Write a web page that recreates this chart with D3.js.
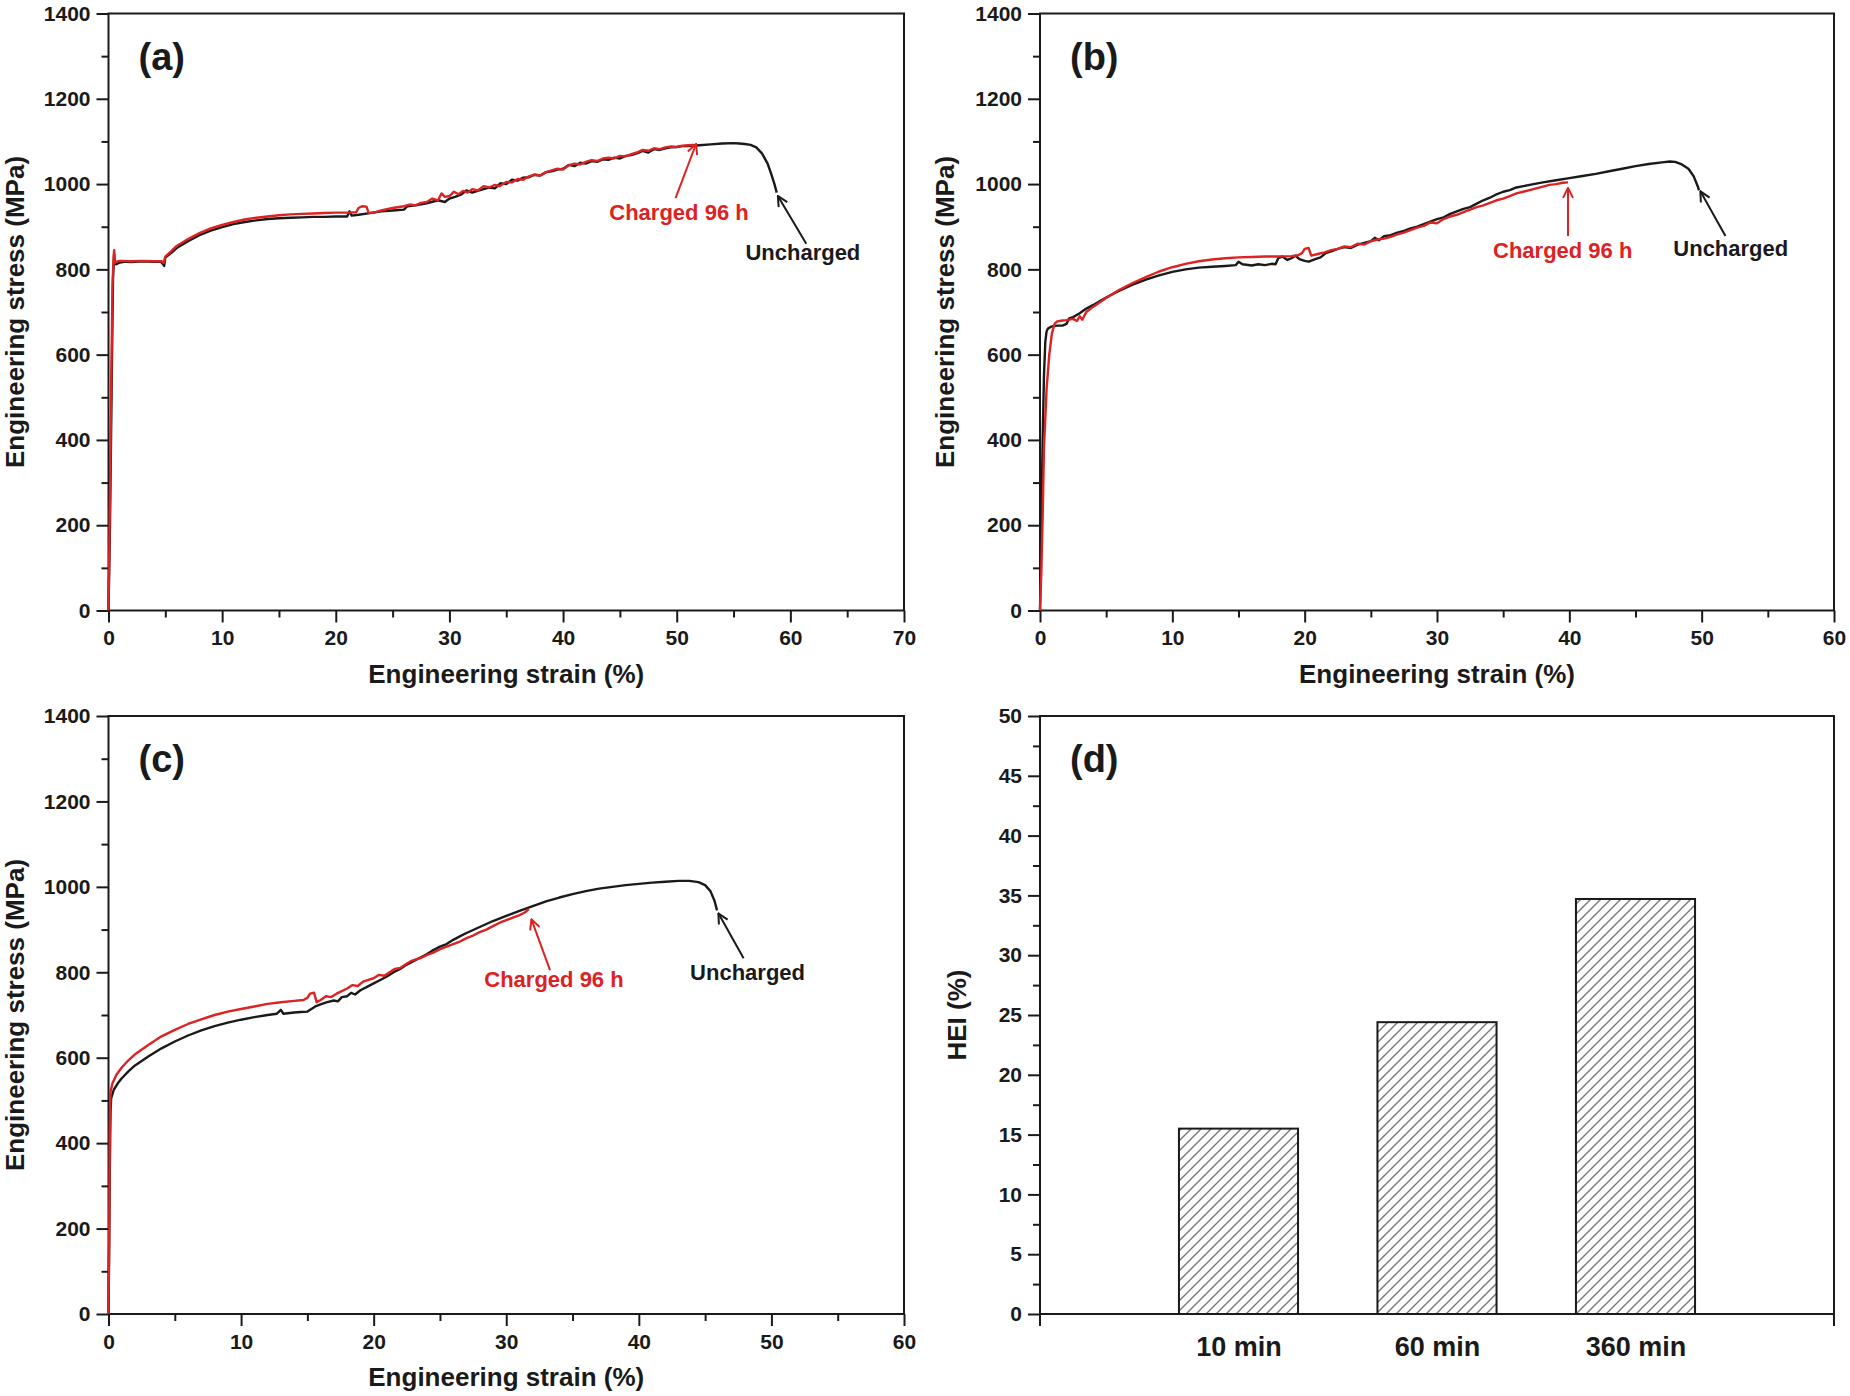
<!DOCTYPE html>
<html>
<head>
<meta charset="utf-8">
<script src="https://cdn.jsdelivr.net/npm/d3@7"></script>
<style>
  body { margin: 0; background: #fff; }
  text { font-family: "Liberation Sans", Arial, sans-serif; font-weight: bold; fill: #1a1a1a; }
</style>
</head>
<body>
<script>
// stress-strain curves, [strain %, stress MPa]
var uncharged_a = [[0,0],[0.1,150],[0.2,350],[0.3,580],[0.4,780],[0.5,835],[0.55,812],[0.6,815],[0.7,812],[1,816],[1.5,818],[2,817],[3,819],[4,818],[4.6,818],[4.8,812],[4.9,808],[5,828],[5.5,838],[6,850],[7,866],[8,880],[9,891],[10,899],[11,906],[12,911],[13,915],[14,918],[15,920],[16,921],[17,922],[18,923],[19,923],[20,924],[21,924],[21.2,936],[21.4,926],[22,928],[23,932],[24,936],[25,938],[26,940],[26.3,948],[27,950],[28,955],[29,962],[29.6,958],[30,966],[30.5,970],[31,975],[31.5,985],[32,980],[33,988],[33.5,992],[34,990],[34.5,1002],[35,1000],[35.5,1010],[36,1008],[36.5,1015],[37,1016],[37.5,1022],[38,1020],[38.5,1028],[39,1030],[39.5,1034],[40,1036],[40.5,1045],[41,1042],[41.5,1050],[42,1048],[42.5,1054],[43,1052],[43.5,1058],[44,1057],[44.5,1062],[45,1060],[45.5,1066],[46,1068],[46.5,1072],[47,1078],[47.5,1074],[48,1082],[48.5,1080],[49,1084],[49.5,1086],[50,1087],[50.5,1089],[51,1089],[52,1091],[53,1093],[54,1095],[55,1096],[55.5,1095],[56,1094],[56.5,1092],[57,1086],[57.5,1072],[58,1048],[58.3,1025],[58.6,1000],[58.8,980]];
var charged_a = [[0,0],[0.05,100],[0.15,300],[0.25,550],[0.35,760],[0.45,830],[0.5,845],[0.55,815],[0.7,818],[1,820],[2,819],[3,820],[4,819],[4.7,819],[4.85,815],[5,830],[5.5,842],[6,855],[7,871],[8,885],[9,896],[10,904],[11,911],[12,917],[13,921],[14,924],[15,927],[16,929],[17,930],[18,931],[19,932],[20,933],[21,933],[21.8,934],[22,944],[22.3,948],[22.7,947],[22.9,932],[23.5,934],[24,938],[25,944],[26,948],[26.5,952],[27,950],[27.5,956],[28,958],[28.5,966],[29,962],[29.3,978],[29.6,970],[30,972],[30.4,982],[30.8,976],[31.2,984],[31.6,980],[32,988],[32.5,985],[33,995],[33.5,992],[34,998],[34.4,995],[35,1005],[35.5,1004],[36,1012],[36.5,1010],[37,1018],[37.5,1022],[38,1020],[38.5,1028],[39,1032],[39.5,1036],[40,1034],[40.5,1044],[41,1048],[41.5,1046],[42,1052],[42.5,1056],[43,1054],[43.5,1060],[44,1062],[44.5,1060],[45,1066],[45.5,1065],[46,1070],[46.5,1074],[47,1080],[47.5,1078],[48,1084],[48.5,1082],[49,1086],[49.5,1088],[50,1087],[50.5,1090],[51,1091],[51.5,1092],[51.8,1090]];

var uncharged_b = [[0,0],[0.1,200],[0.2,400],[0.3,550],[0.4,630],[0.5,655],[0.6,661],[0.8,665],[1,667],[1.3,668],[1.7,668],[2,672],[2.2,685],[2.5,688],[3,697],[3.5,708],[4,716],[4.5,725],[5,734],[6,750],[7,764],[8,776],[9,786],[10,794],[11,800],[12,804],[13,806],[14,808],[14.8,810],[15,818],[15.3,812],[16,809],[16.5,812],[17,810],[17.5,813],[17.8,812],[18,826],[18.3,830],[18.7,822],[19,826],[19.3,832],[19.6,824],[20,820],[20.3,818],[20.8,824],[21.2,828],[21.6,838],[22,842],[22.5,848],[23,852],[23.5,850],[24,858],[24.5,862],[25,866],[25.3,874],[25.6,868],[26,878],[26.5,880],[27,886],[27.5,890],[28,896],[28.5,900],[29,906],[29.5,912],[30,918],[30.5,922],[31,930],[31.5,936],[32,942],[32.5,946],[33,954],[33.5,962],[34,968],[34.5,976],[35,982],[35.5,986],[36,992],[37,998],[38,1004],[39,1009],[40,1014],[41,1019],[42,1024],[43,1030],[44,1036],[45,1042],[46,1047],[47,1051],[47.6,1053],[48,1052],[48.5,1046],[49,1036],[49.4,1018],[49.7,995],[49.8,985]];
var charged_b = [[0,0],[0.1,90],[0.2,220],[0.3,380],[0.5,520],[0.7,600],[0.9,650],[1.1,672],[1.3,678],[1.7,680],[2,681],[2.5,684],[2.8,679],[3,690],[3.2,682],[3.5,700],[4,712],[5,733],[6,752],[7,768],[8,782],[9,795],[10,805],[11,813],[12,819],[13,823],[14,826],[15,828],[16,829],[17,830],[18,830],[19,831],[19.5,833],[19.8,838],[20,848],[20.3,850],[20.5,832],[21,836],[21.5,840],[22,845],[22.5,848],[23,854],[23.5,852],[24,860],[24.5,858],[25,866],[25.5,870],[26,872],[26.5,876],[27,882],[27.5,886],[28,892],[28.5,898],[29,902],[29.5,910],[30,908],[30.5,918],[31,924],[31.5,928],[32,934],[32.5,940],[33,946],[33.5,950],[34,956],[34.5,962],[35,966],[35.5,972],[36,978],[36.5,982],[37,986],[37.5,990],[38,994],[38.5,998],[39,1000],[39.5,1003],[39.9,1004]];

var uncharged_c = [[0,0],[0.05,150],[0.1,350],[0.15,470],[0.2,505],[0.4,525],[0.7,540],[1,552],[1.5,568],[2,582],[3,603],[4,622],[5,638],[6,652],[7,664],[8,674],[9,682],[10,689],[11,695],[12,700],[12.7,703],[13,712],[13.2,703],[14,706],[14.5,707],[15,708],[15.3,714],[15.6,720],[16,725],[16.5,730],[17,734],[17.3,732],[17.6,742],[18,744],[18.3,752],[18.6,748],[19,758],[19.5,766],[20,774],[20.5,782],[21,790],[21.5,800],[22,808],[22.5,818],[23,826],[23.5,834],[24,842],[24.5,852],[25,860],[25.5,866],[26,876],[26.5,884],[27,892],[28,906],[29,920],[30,932],[31,944],[32,955],[33,966],[34,975],[35,983],[36,990],[37,996],[38,1000],[39,1004],[40,1007],[41,1010],[42,1012],[43,1014],[43.8,1014],[44.5,1011],[45,1004],[45.4,990],[45.7,968],[45.9,945]];
var charged_c = [[0,0],[0.05,180],[0.1,420],[0.15,520],[0.3,540],[0.6,560],[1,577],[1.5,594],[2,608],[3,630],[4,650],[5,665],[6,679],[7,690],[8,700],[9,708],[10,714],[11,720],[12,726],[13,730],[14,733],[14.7,735],[15,740],[15.2,750],[15.5,752],[15.7,730],[16,735],[16.4,744],[16.8,742],[17.2,750],[17.6,756],[18,762],[18.4,770],[18.8,768],[19.2,778],[19.6,782],[20,786],[20.4,794],[20.8,792],[21.2,800],[21.6,808],[22,810],[22.4,818],[22.8,826],[23.2,830],[23.6,834],[24,840],[24.5,846],[25,854],[25.5,860],[26,866],[26.5,872],[27,880],[27.5,886],[28,894],[28.5,900],[29,908],[29.5,916],[30,922],[30.5,928],[31,934],[31.4,940],[31.7,948]];

// HEI bar chart
var heiCategories = ["10 min", "60 min", "360 min"];
var heiValues = [15.5, 24.4, 34.7];

var stressTicks = d3.range(0, 1401, 200);
var heiTicks = d3.range(0, 51, 5);

var RED = "#dc2222";
var INK = "#1a1a1a";

var svg = d3.select("body").append("svg")
    .attr("width", 1850)
    .attr("height", 1396);

var defs = svg.append("defs");
[["arrow-red", RED], ["arrow-black", INK]].forEach(function(m) {
    defs.append("marker")
        .attr("id", m[0])
        .attr("viewBox", "0 0 12 12")
        .attr("refX", 11).attr("refY", 6)
        .attr("markerWidth", 12).attr("markerHeight", 12)
        .attr("markerUnits", "userSpaceOnUse")
        .attr("orient", "auto")
        .append("path")
        .attr("d", "M1,1 L11,6 L1,11")
        .attr("fill", "none")
        .attr("stroke", m[1])
        .attr("stroke-width", 2);
});

var hatch = defs.append("pattern")
    .attr("id", "hatch")
    .attr("patternUnits", "userSpaceOnUse")
    .attr("width", 10).attr("height", 10);
hatch.append("rect").attr("width", 10).attr("height", 10).attr("fill", "#fff");
hatch.append("path")
    .attr("d", "M-1,1 l2,-2 M0,10 l10,-10 M9,11 l2,-2")
    .attr("stroke", "#777")
    .attr("stroke-width", 1.4);

function styleAxis(g, fontSize) {
    g.select(".domain").remove();
    g.selectAll(".tick line").attr("stroke", INK).attr("stroke-width", 2);
    g.selectAll(".tick text")
        .style("font-size", fontSize + "px")
        .attr("fill", INK);
}

function frame(x0, x1, y0, y1) {
    svg.append("rect")
        .attr("x", x0).attr("y", y1)
        .attr("width", x1 - x0).attr("height", y0 - y1)
        .attr("fill", "none")
        .attr("stroke", INK)
        .attr("stroke-width", 2);
}

function stressPanel(p) {
    var x = d3.scaleLinear().domain([0, p.xmax]).range([p.x0, p.x1]);
    var y = d3.scaleLinear().domain([0, 1400]).range([p.y0, p.y1]);

    // minor ticks
    svg.append("g").attr("transform", "translate(0," + p.y0 + ")")
        .call(d3.axisBottom(x).tickValues(d3.range(5, p.xmax, 10)).tickSize(7).tickFormat(""))
        .call(styleAxis, 21);
    svg.append("g").attr("transform", "translate(" + p.x0 + ",0)")
        .call(d3.axisLeft(y).tickValues(d3.range(100, 1400, 200)).tickSize(7).tickFormat(""))
        .call(styleAxis, 21);

    svg.append("g").attr("transform", "translate(0," + p.y0 + ")")
        .call(d3.axisBottom(x).tickValues(d3.range(0, p.xmax + 1, 10)).tickSize(12).tickPadding(8).tickFormat(d3.format("d")))
        .call(styleAxis, 21);
    svg.append("g").attr("transform", "translate(" + p.x0 + ",0)")
        .call(d3.axisLeft(y).tickValues(stressTicks).tickSize(12).tickPadding(6).tickFormat(d3.format("d")))
        .call(styleAxis, 21);

    frame(p.x0, p.x1, p.y0, p.y1);

    var line = d3.line().x(function(d) { return x(d[0]); }).y(function(d) { return y(d[1]); });
    p.curves.forEach(function(c) {
        svg.append("path")
            .datum(c.data)
            .attr("d", line)
            .attr("fill", "none")
            .attr("stroke", c.color)
            .attr("stroke-width", 2.4)
            .attr("stroke-linejoin", "round");
    });

    p.notes.forEach(function(n) {
        svg.append("line")
            .attr("x1", x(n.from[0])).attr("y1", y(n.from[1]))
            .attr("x2", x(n.to[0])).attr("y2", y(n.to[1]))
            .attr("stroke", n.color)
            .attr("stroke-width", 2)
            .attr("marker-end", n.color == RED ? "url(#arrow-red)" : "url(#arrow-black)");
        svg.append("text")
            .attr("x", x(n.at[0])).attr("y", y(n.at[1]))
            .attr("text-anchor", "middle")
            .style("font-size", "22px")
            .style("fill", n.color)
            .text(n.text);
    });

    svg.append("text")
        .attr("x", p.x0 + 30).attr("y", p.y1 + 56)
        .style("font-size", "38px")
        .text(p.label);

    svg.append("text")
        .attr("transform", "translate(" + p.yTitleX + "," + (p.y0 + p.y1) / 2 + ") rotate(-90)")
        .attr("text-anchor", "middle")
        .style("font-size", "26px")
        .text("Engineering stress (MPa)");
    svg.append("text")
        .attr("x", (p.x0 + p.x1) / 2).attr("y", p.y0 + 72)
        .attr("text-anchor", "middle")
        .style("font-size", "26px")
        .text("Engineering strain (%)");
}

stressPanel({
    x0: 108.5, x1: 904, y0: 610.5, y1: 13.5, xmax: 70, label: "(a)", yTitleX: 24,
    curves: [{data: uncharged_a, color: INK}, {data: charged_a, color: RED}],
    notes: [
        {text: "Charged 96 h", color: RED, at: [50.2, 916], from: [49.9, 967], to: [51.7, 1094]},
        {text: "Uncharged", color: INK, at: [61.1, 822], from: [61.4, 860], to: [58.9, 972]}
    ]
});

stressPanel({
    x0: 1040, x1: 1834, y0: 610.5, y1: 13.5, xmax: 60, label: "(b)", yTitleX: 954,
    curves: [{data: uncharged_b, color: INK}, {data: charged_b, color: RED}],
    notes: [
        {text: "Charged 96 h", color: RED, at: [39.5, 826], from: [39.9, 878], to: [39.9, 991]},
        {text: "Uncharged", color: INK, at: [52.2, 831], from: [51.8, 878], to: [49.9, 983]}
    ]
});

stressPanel({
    x0: 108.5, x1: 904, y0: 1314, y1: 716, xmax: 60, label: "(c)", yTitleX: 24,
    curves: [{data: uncharged_c, color: INK}, {data: charged_c, color: RED}],
    notes: [
        {text: "Charged 96 h", color: RED, at: [33.6, 766], from: [33.3, 805], to: [31.9, 924]},
        {text: "Uncharged", color: INK, at: [48.2, 782], from: [47.9, 833], to: [46, 938]}
    ]
});

// panel (d)
(function() {
    var x0 = 1040, x1 = 1834, y0 = 1314, y1 = 716;
    var x = d3.scalePoint().domain(heiCategories).range([x0, x1]).padding(1);
    var y = d3.scaleLinear().domain([0, 50]).range([y0, y1]);
    var bw = x.step() * 0.6;

    svg.append("g").attr("transform", "translate(" + x0 + ",0)")
        .call(d3.axisLeft(y).tickValues(d3.range(2.5, 50, 5)).tickSize(7).tickFormat(""))
        .call(styleAxis, 21);
    svg.append("g").attr("transform", "translate(" + x0 + ",0)")
        .call(d3.axisLeft(y).tickValues(heiTicks).tickSize(12).tickPadding(6))
        .call(styleAxis, 21);
    svg.append("g").attr("transform", "translate(0," + y0 + ")")
        .call(d3.axisBottom(x).tickSize(0).tickPadding(23))
        .call(styleAxis, 27);
    [x0, x1].forEach(function(v) {
        svg.append("line")
            .attr("x1", v).attr("x2", v)
            .attr("y1", y0).attr("y2", y0 + 12)
            .attr("stroke", INK).attr("stroke-width", 2);
    });

    svg.selectAll(".bar")
        .data(heiValues)
        .enter().append("rect")
        .attr("class", "bar")
        .attr("x", function(d, i) { return x(heiCategories[i]) - bw / 2; })
        .attr("y", function(d) { return y(d); })
        .attr("width", bw)
        .attr("height", function(d) { return y0 - y(d); })
        .attr("fill", "url(#hatch)")
        .attr("stroke", INK)
        .attr("stroke-width", 2);

    frame(x0, x1, y0, y1);

    svg.append("text")
        .attr("x", x0 + 30).attr("y", y1 + 56)
        .style("font-size", "38px")
        .text("(d)");
    svg.append("text")
        .attr("transform", "translate(966," + (y0 + y1) / 2 + ") rotate(-90)")
        .attr("text-anchor", "middle")
        .style("font-size", "26px")
        .text("HEI (%)");
})();
</script>
</body>
</html>
